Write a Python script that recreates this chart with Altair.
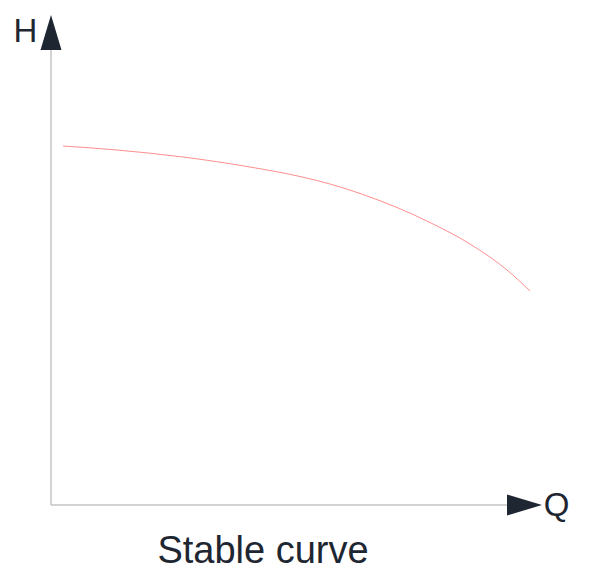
import altair as alt
import pandas as pd

# Pump curve (Q flow, H head)
q_values = [2.4, 13.2, 26.4, 39.8, 49.8, 55.8, 62.4, 69.2, 75.8, 83.8, 91.2, 95.8]
h_values = [71.8, 71.0, 69.6, 67.6, 65.7, 64.2, 62.1, 59.5, 56.5, 52.2, 47.0, 42.8]

# axis extents (data units)
axis_q_end = 91.2
axis_h_end = 91.0
arrow_q_pos = 94.7
arrow_h_pos = 94.5

# labels
axis_labels = ["H", "Q"]
label_q = [-5.1, 101.1]
label_h = [92.6, -2.2]
title_text = "Stable curve"
title_q = 42.4
title_h = -11.6

xs = alt.Scale(domain=[-8.6, 108.2], nice=False, zero=False)
ys = alt.Scale(domain=[-13.2, 99.4], nice=False, zero=False)

curve_df = pd.DataFrame({"Q": q_values, "H": h_values})
axes_df = pd.DataFrame({
    "q": [0, 0], "h": [0, 0],
    "q2": [0, axis_q_end], "h2": [axis_h_end, 0],
})
varrow_df = pd.DataFrame({"q": [0], "h": [arrow_h_pos]})
harrow_df = pd.DataFrame({"q": [arrow_q_pos], "h": [0]})
labels_df = pd.DataFrame({"q": label_q, "h": label_h, "t": axis_labels})
title_df = pd.DataFrame({"q": [title_q], "h": [title_h], "t": [title_text]})

X = lambda f: alt.X(f, type="quantitative", scale=xs, axis=None)
Y = lambda f: alt.Y(f, type="quantitative", scale=ys, axis=None)

axes = alt.Chart(axes_df).mark_rule(color="#c4c4c4", strokeWidth=1.5).encode(
    x=X("q"), y=Y("h"), x2="q2", y2="h2"
)

curve = alt.Chart(curve_df).mark_line(
    color="#ff8f8f", strokeWidth=1, interpolate="monotone"
).encode(x=X("Q"), y=Y("H"), order=alt.Order("Q:Q"))

varrow = alt.Chart(varrow_df).mark_point(
    shape="M0,-1L0.6,1L-0.6,1Z", size=1225, filled=True, opacity=1,
    color="#1e2631", strokeWidth=0
).encode(x=X("q"), y=Y("h"))

harrow = alt.Chart(harrow_df).mark_point(
    shape="M1,0L-1,-0.6L-1,0.6Z", size=1225, filled=True, opacity=1,
    color="#1e2631", strokeWidth=0
).encode(x=X("q"), y=Y("h"))

labels = alt.Chart(labels_df).mark_text(
    font="Liberation Sans", fontSize=33, color="#1e2631",
    align="center", baseline="alphabetic"
).encode(x=X("q"), y=Y("h"), text="t:N")

title = alt.Chart(title_df).mark_text(
    font="Liberation Sans", fontSize=38, color="#1e2631",
    align="center", baseline="alphabetic"
).encode(x=X("q"), y=Y("h"), text="t:N")

chart = alt.layer(axes, curve, varrow, harrow, labels, title).properties(
    width=584, height=563, padding=0,
    autosize=alt.AutoSizeParams(type="none"),
).configure_view(stroke=None)

chart.save("out.html", embed_options={"renderer": "svg", "actions": False})
